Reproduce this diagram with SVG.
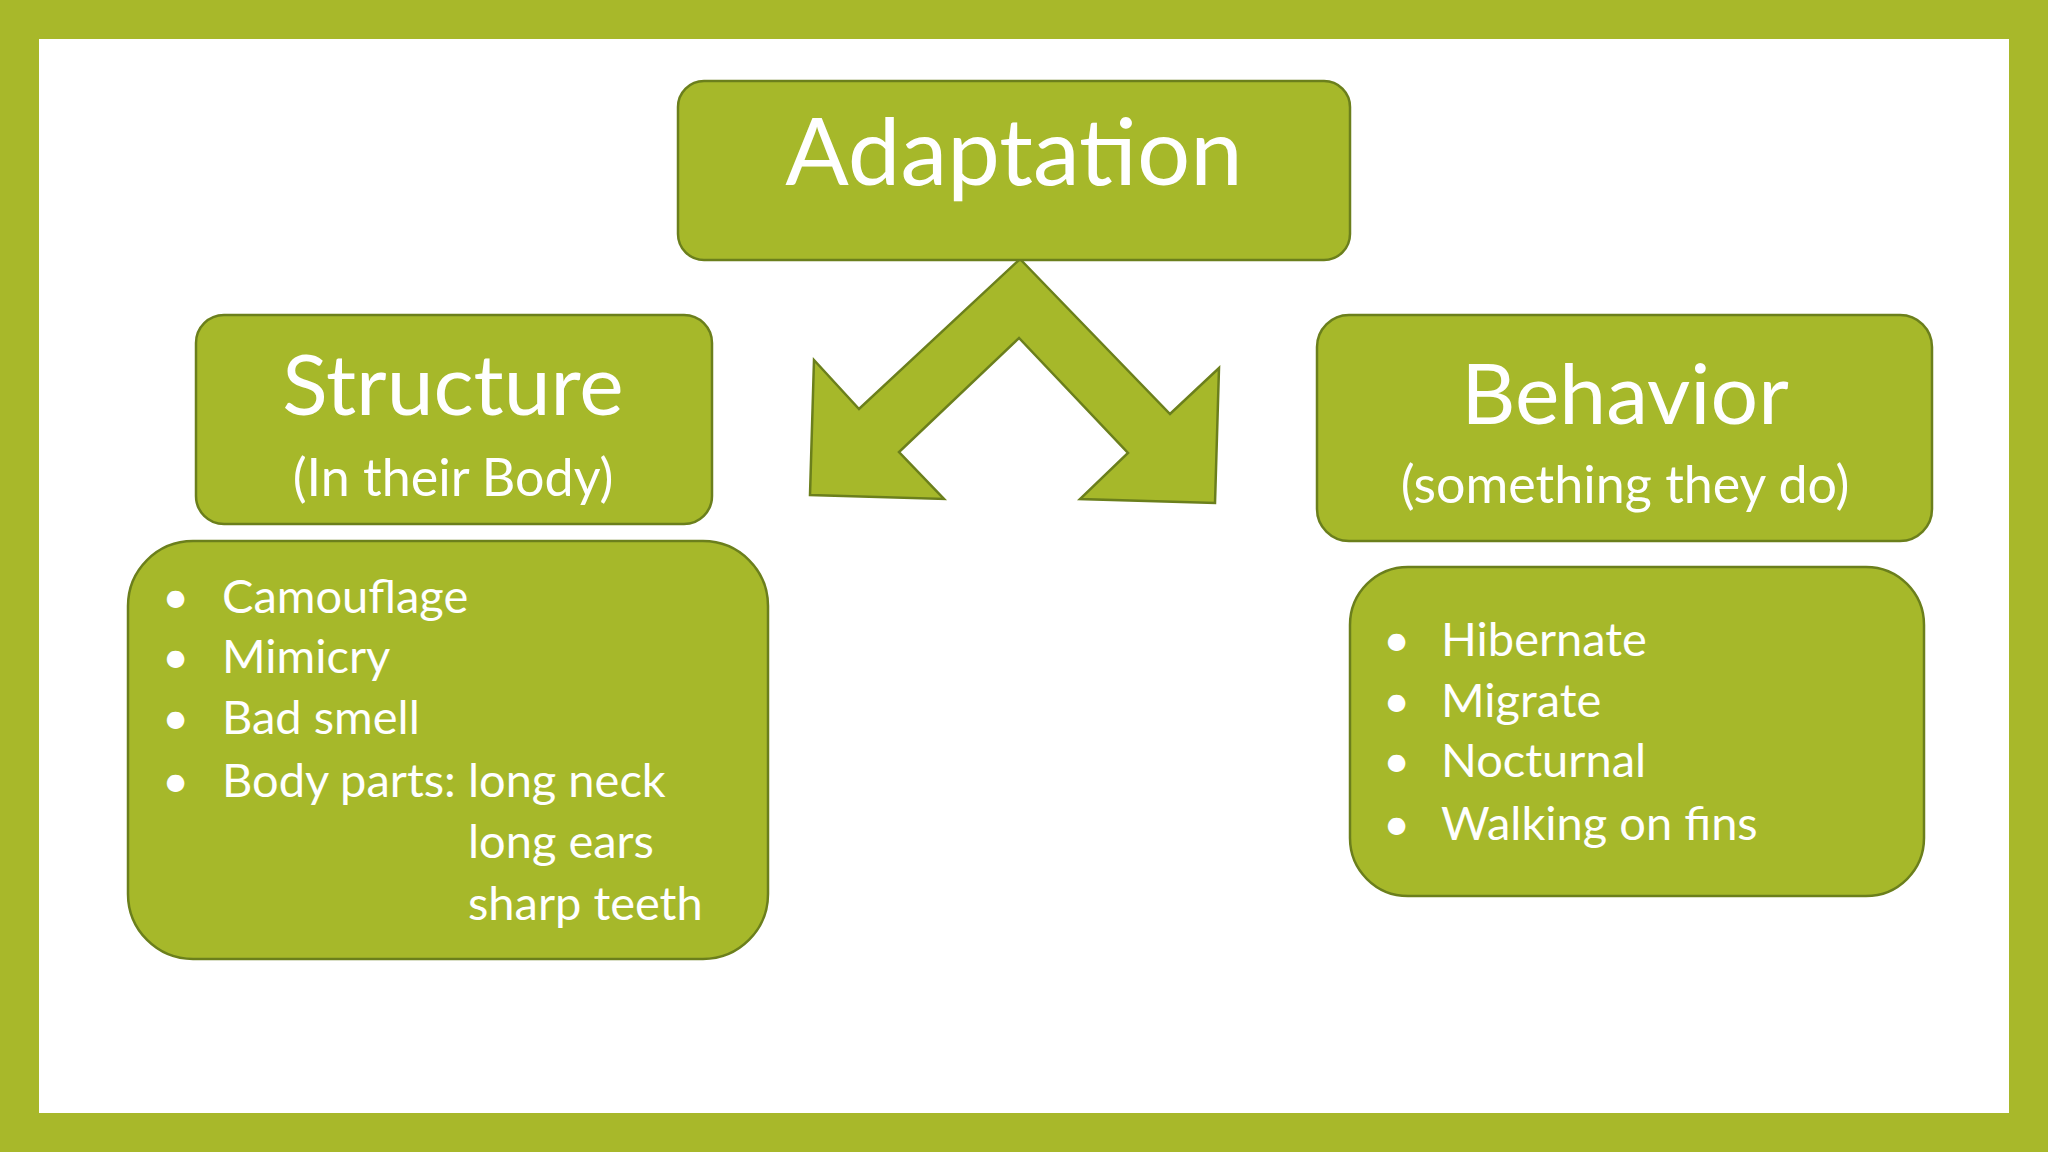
<svg xmlns="http://www.w3.org/2000/svg" width="2048" height="1152" viewBox="0 0 2048 1152">
<style>
.box{fill:#a6b82a;stroke:#6b7f1c;stroke-width:2.5}
text{font-family:Lato,"Open Sans",sans-serif;fill:#fff}
.t{font-size:47px}
</style>
<rect x="0" y="0" width="2048" height="1152" fill="#a8b82a"/>
<rect x="39" y="39" width="1970" height="1074" fill="#fff"/>
<g id="connectors">
<polygon class="box" points="1020,259 1170,414 1219,368 1215,503 1080,499 1128,453 1019,338 899,452 944,499 810,495 814,360 859,409"/>
</g>
<g id="adaptation">
<rect class="box" x="678" y="81" width="672" height="179" rx="26"/>
<text x="1014" y="185" font-size="94" text-anchor="middle">Adaptation</text>
</g>
<g id="structure">
<rect class="box" x="196" y="315" width="516" height="209" rx="28"/>
<text x="453" y="415" font-size="84" text-anchor="middle">Structure</text>
<text x="453" y="496" font-size="52" text-anchor="middle">(In their Body)</text>
</g>
<g id="structure-list">
<rect class="box" x="128" y="541" width="640" height="418" rx="65"/>
<g class="t">
<text x="162" y="613">•</text><text x="222" y="613">Camouflage</text>
<text x="162" y="673">•</text><text x="222" y="673">Mimicry</text>
<text x="162" y="734">•</text><text x="222" y="734">Bad smell</text>
<text x="162" y="797">•</text><text x="222" y="797">Body parts: long neck</text>
<text x="468" y="858">long ears</text>
<text x="468" y="920">sharp teeth</text>
</g>
</g>
<g id="behavior">
<rect class="box" x="1317" y="315" width="615" height="226" rx="32"/>
<text x="1625" y="424" font-size="84" text-anchor="middle">Behavior</text>
<text x="1625" y="503" font-size="52" text-anchor="middle">(something they do)</text>
</g>
<g id="behavior-list">
<rect class="box" x="1350" y="567" width="574" height="329" rx="58"/>
<g class="t">
<text x="1383" y="656">•</text><text x="1441" y="656">Hibernate</text>
<text x="1383" y="717">•</text><text x="1441" y="717">Migrate</text>
<text x="1383" y="777">•</text><text x="1441" y="777">Nocturnal</text>
<text x="1383" y="840">•</text><text x="1441" y="840">Walking on fins</text>
</g>
</g>
</svg>
